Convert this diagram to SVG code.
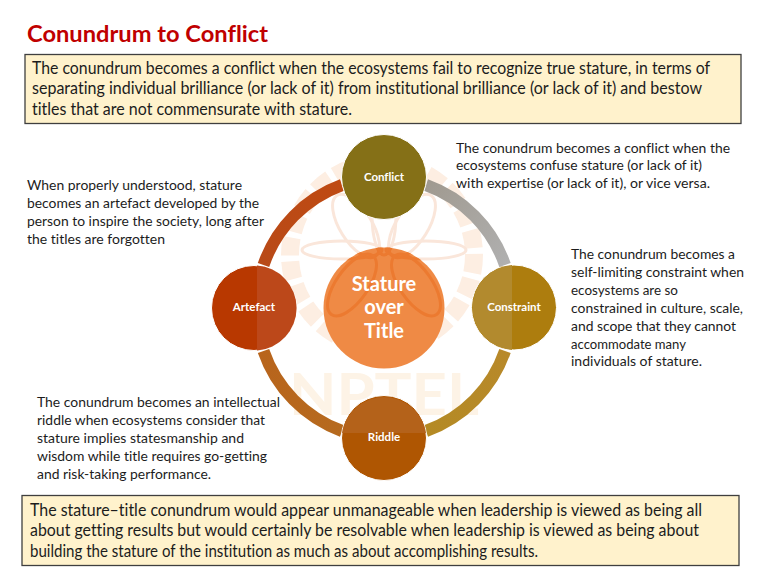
<svg xmlns="http://www.w3.org/2000/svg" width="768" height="576" viewBox="0 0 768 576">
<style>
text{font-family:"Lato","Open Sans","Liberation Sans",sans-serif;fill:#1c1c1c;font-variant-ligatures:none}
.b{font-size:16.5px}
.s{font-size:13.5px}
.box{fill:#fff2cc;stroke:#3f3f3f;stroke-width:1.3}
.n{font-size:11.500px;font-weight:700;fill:#fff;text-anchor:middle}
.c{font-size:20px;font-weight:700;fill:#fff;text-anchor:middle}
.ring{fill:none;stroke-width:12}
.pet{fill:none;stroke-width:3}
</style>
<defs>
<linearGradient id="g1" gradientUnits="userSpaceOnUse" x1="260" y1="265" x2="345" y2="185"><stop offset="0" stop-color="#b84a18"/><stop offset="1" stop-color="#bf4a12"/></linearGradient>
<linearGradient id="g2" gradientUnits="userSpaceOnUse" x1="425" y1="185" x2="508" y2="265"><stop offset="0" stop-color="#a09a90"/><stop offset="1" stop-color="#b0b0b0"/></linearGradient>
<linearGradient id="g3" gradientUnits="userSpaceOnUse" x1="508" y1="350" x2="425" y2="432"><stop offset="0" stop-color="#b8892a"/><stop offset="1" stop-color="#b48a24"/></linearGradient>
<linearGradient id="g4" gradientUnits="userSpaceOnUse" x1="345" y1="432" x2="260" y2="350"><stop offset="0" stop-color="#b66a1e"/><stop offset="1" stop-color="#b8641c"/></linearGradient>
<clipPath id="cc"><circle cx="384" cy="308" r="60.500"/></clipPath>
<g id="petals">
<ellipse cx="384" cy="215" rx="12" ry="40"/>
<ellipse cx="356" cy="226" rx="16" ry="36" transform="rotate(-32 356 226)"/>
<ellipse cx="412" cy="226" rx="16" ry="36" transform="rotate(32 412 226)"/>
<ellipse cx="342" cy="250" rx="40" ry="9"/>
<ellipse cx="426" cy="250" rx="40" ry="9"/>
<ellipse cx="352" cy="285" rx="16" ry="36" transform="rotate(35 352 285)"/>
<ellipse cx="416" cy="285" rx="16" ry="36" transform="rotate(-35 416 285)"/>
</g>
</defs>
<rect width="768" height="576" fill="#fff"/>
<g id="title"><text x="27" y="42" style="font-size:23.5px;font-weight:700;fill:#c00000" textLength="241" lengthAdjust="spacingAndGlyphs">Conundrum to Conflict</text></g>
<g id="top-box">
<rect class="box" x="25" y="54.500" width="716" height="69"/>
<text class="b" x="32" y="74" textLength="678" lengthAdjust="spacingAndGlyphs">The conundrum becomes a conflict when the ecosystems fail to recognize true stature, in terms of</text>
<text class="b" x="32" y="94" textLength="670" lengthAdjust="spacingAndGlyphs">separating individual brilliance (or lack of it) from institutional brilliance (or lack of it) and bestow</text>
<text class="b" x="32" y="115" textLength="320" lengthAdjust="spacingAndGlyphs">titles that are not commensurate with stature.</text>
</g>
<g id="watermark">
<circle cx="382" cy="255" r="92" fill="none" stroke="#fdeee2" stroke-width="18" stroke-dasharray="18 6"/>
<use href="#petals" class="pet" stroke="#fae6da"/>
<text x="384" y="415" text-anchor="middle" textLength="190" lengthAdjust="spacingAndGlyphs" style="font-size:58px;font-weight:700;fill:#fdf3e6">NPTEL</text>
</g>
<g id="connectors">
<path class="ring" stroke="url(#g1)" d="M263.500 265A130 130 0 0 1 342 185"/>
<path class="ring" stroke="url(#g2)" d="M426 185A130 130 0 0 1 505 265"/>
<path class="ring" stroke="url(#g3)" d="M505 351A130 130 0 0 1 426 431"/>
<path class="ring" stroke="url(#g4)" d="M342 431A130 130 0 0 1 263.500 351"/>
</g>
<g id="center"><circle cx="384" cy="308" r="60.500" fill="#ef8a45"/>
<g clip-path="url(#cc)"><use href="#petals" class="pet" stroke="#ec7a30"/></g>
<text class="c" x="384" y="291">Stature</text><text class="c" x="384" y="314">over</text><text class="c" x="384" y="338">Title</text></g>
<g id="conflict"><circle cx="384" cy="177" r="42.500" fill="#857017" stroke="#fff" stroke-width="1"/><text class="n" x="384" y="181">Conflict</text></g>
<g id="constraint"><circle cx="514" cy="307.500" r="42.500" fill="#ad7d0e" stroke="#fff" stroke-width="1"/><path d="M512 265.100A42.500 42.500 0 0 0 512 349.900Z" fill="#b28a2e"/><text class="n" x="514" y="311">Constraint</text></g>
<g id="riddle"><circle cx="384" cy="438" r="42.500" fill="#af5602" stroke="#fff" stroke-width="1"/><path d="M342 433A42.500 42.500 0 0 1 426 433Z" fill="#b4621a"/><text class="n" x="384" y="441">Riddle</text></g>
<g id="artefact"><circle cx="254" cy="308" r="42.500" fill="#b83800" stroke="#fff" stroke-width="1"/><path d="M257 265.600A42.500 42.500 0 0 1 257 350.400Z" fill="#bc481a"/><text class="n" x="254" y="311">Artefact</text></g>
<g id="note-conflict">
<text class="s" x="456" y="153" textLength="274" lengthAdjust="spacingAndGlyphs">The conundrum becomes a conflict when the</text>
<text class="s" x="456" y="170" textLength="246" lengthAdjust="spacingAndGlyphs">ecosystems confuse stature (or lack of it)</text>
<text class="s" x="456" y="188" textLength="254" lengthAdjust="spacingAndGlyphs">with expertise (or lack of it), or vice versa.</text>
</g>
<g id="note-artefact">
<text class="s" x="27" y="190" textLength="215" lengthAdjust="spacingAndGlyphs">When properly understood, stature</text>
<text class="s" x="27" y="208" textLength="232" lengthAdjust="spacingAndGlyphs">becomes an artefact developed by the</text>
<text class="s" x="27" y="226" textLength="237" lengthAdjust="spacingAndGlyphs">person to inspire the society, long after</text>
<text class="s" x="27" y="244" textLength="138" lengthAdjust="spacingAndGlyphs">the titles are forgotten</text>
</g>
<g id="note-constraint">
<text class="s" x="571" y="259" textLength="164" lengthAdjust="spacingAndGlyphs">The conundrum becomes a</text>
<text class="s" x="571" y="277" textLength="173" lengthAdjust="spacingAndGlyphs">self-limiting constraint when</text>
<text class="s" x="571" y="295" textLength="107" lengthAdjust="spacingAndGlyphs">ecosystems are so</text>
<text class="s" x="571" y="313" textLength="172" lengthAdjust="spacingAndGlyphs">constrained in culture, scale,</text>
<text class="s" x="571" y="331" textLength="165" lengthAdjust="spacingAndGlyphs">and scope that they cannot</text>
<text class="s" x="571" y="349" textLength="115" lengthAdjust="spacingAndGlyphs">accommodate many</text>
<text class="s" x="571" y="366" textLength="131" lengthAdjust="spacingAndGlyphs">individuals of stature.</text>
</g>
<g id="note-riddle">
<text class="s" x="37" y="407" textLength="243" lengthAdjust="spacingAndGlyphs">The conundrum becomes an intellectual</text>
<text class="s" x="37" y="425" textLength="228" lengthAdjust="spacingAndGlyphs">riddle when ecosystems consider that</text>
<text class="s" x="37" y="443" textLength="207" lengthAdjust="spacingAndGlyphs">stature implies statesmanship and</text>
<text class="s" x="37" y="461" textLength="230" lengthAdjust="spacingAndGlyphs">wisdom while title requires go-getting</text>
<text class="s" x="37" y="479" textLength="174" lengthAdjust="spacingAndGlyphs">and risk-taking performance.</text>
</g>
<g id="bottom-box">
<rect class="box" x="22" y="495.500" width="717" height="70"/>
<text class="b" x="30" y="516" textLength="672" lengthAdjust="spacingAndGlyphs">The stature–title conundrum would appear unmanageable when leadership is viewed as being all</text>
<text class="b" x="30" y="536" textLength="669" lengthAdjust="spacingAndGlyphs">about getting results but would certainly be resolvable when leadership is viewed as being about</text>
<text class="b" x="30" y="557" textLength="508" lengthAdjust="spacingAndGlyphs">building the stature of the institution as much as about accomplishing results.</text>
</g>
</svg>
